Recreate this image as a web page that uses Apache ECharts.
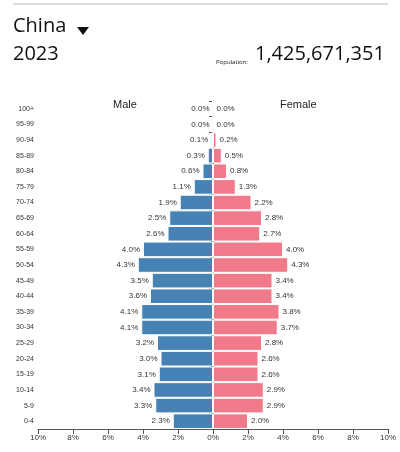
<!DOCTYPE html>
<html><head><meta charset="utf-8">
<script src="https://cdn.jsdelivr.net/npm/echarts@6/dist/echarts.min.js"></script>
<style>body{margin:0;background:#fff}#c{width:400px;height:452px}</style>
</head><body><div id="c"></div>
<script>
// bottom to top
const ages = ['0-4','5-9','10-14','15-19','20-24','25-29','30-34','35-39','40-44','45-49','50-54','55-59','60-64','65-69','70-74','75-79','80-84','85-89','90-94','95-99','100+'];
const male = [2.3,3.3,3.4,3.1,3.0,3.2,4.1,4.1,3.6,3.5,4.3,4.0,2.6,2.5,1.9,1.1,0.6,0.3,0.1,0.0,0.0];
const female = [2.0,2.9,2.9,2.6,2.6,2.8,3.7,3.8,3.4,3.4,4.3,4.0,2.7,2.8,2.2,1.3,0.8,0.5,0.2,0.0,0.0];
const xTicks = [-10,-8,-6,-4,-2,0,2,4,6,8,10];

const font = 'Segoe UI, "Open Sans", sans-serif';
const chart = echarts.init(document.getElementById('c'));
const lbl = {show:true, fontSize:8, color:'#333', fontFamily:'Arial', formatter: p => Math.abs(p.value).toFixed(1) + '%'};
chart.setOption({
  animation:false,
  grid:{left:38, right:12, top:101, bottom:23},
  xAxis:{type:'value', min:-10, max:10, interval:2,
    axisLine:{show:true, lineStyle:{color:'#555'}}, axisTick:{show:true, lineStyle:{color:'#555'}},
    splitLine:{show:false},
    axisLabel:{fontSize:8, color:'#333', fontFamily:'Arial', margin:5, formatter: v => Math.abs(v) + '%'}},
  yAxis:{type:'category', data:ages,
    axisLine:{show:true, lineStyle:{color:'#555'}}, axisTick:{show:true, length:4, lineStyle:{color:'#555'}},
    axisLabel:{fontSize:7, color:'#333', fontFamily:'Arial', margin:4}},
  series:[
    {type:'bar', data:male.map(v => -v), barWidth:'100%', barGap:'-100%',
     itemStyle:{color:'#4682b4', borderColor:'#fff', borderWidth:1},
     label:Object.assign({position:'left', distance:3}, lbl)},
    {type:'bar', data:female, barWidth:'100%', barGap:'-100%',
     itemStyle:{color:'#f07a8a', borderColor:'#fff', borderWidth:1},
     label:Object.assign({position:'right', distance:3}, lbl)}
  ],
  graphic:[
    {type:'rect', shape:{x:13, y:3, width:375, height:2}, style:{fill:'#ddd'}},
    {type:'text', left:13, top:16, style:{text:'China', fontSize:20, fill:'#111', fontFamily:font}},
    {type:'polygon', shape:{points:[[77,27],[89,27],[83,35]]}, style:{fill:'#111'}},
    {type:'text', left:13, top:44, style:{text:'2023', fontSize:20, fill:'#111', fontFamily:font}},
    {type:'text', left:216, top:59, style:{text:'Population:', fontSize:6, fill:'#111', fontFamily:font}},
    {type:'text', left:255, top:44, style:{text:'1,425,671,351', fontSize:20, fill:'#111', fontFamily:font}},
    {type:'text', left:113, top:99, style:{text:'Male', fontSize:11, fill:'#222', fontFamily:'Arial'}},
    {type:'text', left:280, top:99, style:{text:'Female', fontSize:11, fill:'#222', fontFamily:'Arial'}}
  ]
});
</script></body></html>
